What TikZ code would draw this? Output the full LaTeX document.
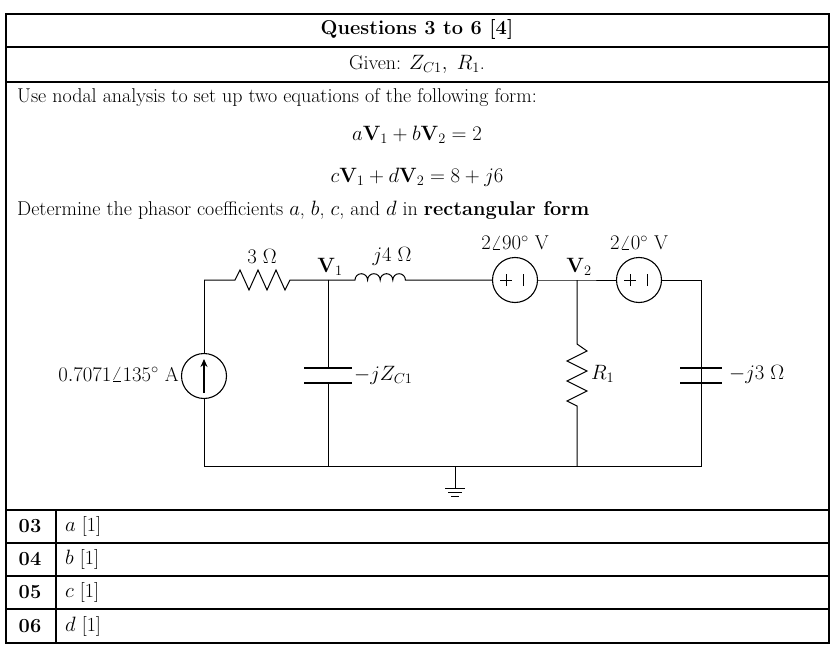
\documentclass[tikz,border=0pt]{standalone}
\usetikzlibrary{arrows.meta}
\begin{document}
\begin{tikzpicture}[x=1pt,y=-1pt,
  w/.style={line width=1pt},
  tbl/.style={line width=1.1pt},
  lbl/.style={font=\fontsize{20}{24}\selectfont, inner sep=1pt},
  src/.style={circle,draw,line width=1.1pt,minimum size=45pt,inner sep=0pt}]
\useasboundingbox (0,0) rectangle (834,652);
% table
\draw[tbl] (6,14) rectangle (829,643);
\foreach \yy in {47,82,510,543,576,609} \draw[tbl] (6,\yy) -- (829,\yy);
\draw[tbl] (56,510) -- (56,643);
\node[lbl,font=\fontsize{20}{24}\selectfont\bfseries] (t1) at (417,30) {Questions 3 to 6 [4]};
\node[lbl] (t2) at (417,64) {Given: $Z_{C1},\ R_1$.};
\node[lbl,anchor=west] (t3) at (16,98) {Use nodal analysis to set up two equations of the following form:};
\node[lbl] (e1) at (417,135) {$a\mathbf{V}_1+b\mathbf{V}_2=2$};
\node[lbl] (e2) at (417,177) {$c\mathbf{V}_1+d\mathbf{V}_2=8+j6$};
\node[lbl,anchor=west] (t4) at (16,210) {Determine the phasor coefficients $a$, $b$, $c$, and $d$ in \textbf{rectangular form}};
\foreach \n/\l/\yy in {03/a/526,04/b/559,05/c/592,06/d/626}{
  \node[lbl,font=\fontsize{20}{24}\selectfont\bfseries] (r\n) at (30,\yy) {\n};
  \node[lbl,anchor=west] (q\n) at (64,\yy) {$\l$ [1]};}
% circuit coordinates
\coordinate (TL) at (204,280); \coordinate (BL) at (204,466);
\coordinate (N1) at (328,280); \coordinate (B1) at (328,466);
\coordinate (N2) at (577,280); \coordinate (B2) at (577,466);
\coordinate (TR) at (701,280); \coordinate (BR) at (701,466);
\coordinate (G) at (455,466);
\node[src] (I) at (204,376) {};
\node[src] (S1) at (515,280) {};
\node[src] (S2) at (639,280) {};
% left branch
\draw[w] (TL) -- (I.north); \draw[w] (I.south) -- (BL) -- (BR) -- (TR);
\draw[-{Stealth[length=8pt,width=7pt]},line width=1.3pt] (204,393) -- (204,359);
% resistor 3
\draw[w] (TL) -- (235,280) -- (240,270) -- (249,290) -- (258,270) -- (267,290) -- (276,270) -- (285,290) -- (290,280) -- (N1);
% inductor
\draw[w] (N1) -- (355,280) arc(180:360:6.3) arc(180:360:6.3) arc(180:360:6.3) arc(180:360:6.3) -- (S1.west);
\draw[w] (S1.east) -- (N2) -- (S2.west);
\draw[w] (S2.east) -- (TR);
% sources signs
\foreach \s in {S1,S2}{
 \draw[line width=0.9pt] ([xshift=-15pt]\s.center) -- ([xshift=-3pt]\s.center) ([xshift=-9pt,yshift=-6pt]\s.center) -- ([xshift=-9pt,yshift=6pt]\s.center);
 \draw[line width=0.9pt] ([xshift=8pt,yshift=-6pt]\s.center) -- ([xshift=8pt,yshift=6pt]\s.center);}
% capacitor C1
\draw[w] (N1) -- (328,368); \draw[w] (328,383) -- (B1);
\draw[line width=1.4pt] (304,368) -- (352,368) (304,383) -- (352,383);
% R1
\draw[w] (N2) -- (577,344) -- (587,351) -- (567,361) -- (587,371) -- (567,381) -- (587,391) -- (567,401) -- (577,406) -- (B2);
% right capacitor
\draw[w] (TR) -- (701,368); \draw[w] (701,383) -- (BR);
\draw[line width=1.4pt] (680,368) -- (722,368) (680,383) -- (722,383);
% ground
\draw[w] (G) -- (455,488);
\draw[w] (445,488) -- (465,488) (448,492) -- (462,492) (451,496) -- (459,496);
% labels
\node[lbl] (l1) at (262,256) {$3\ \Omega$};
\node[lbl] (l2) at (330,267) {$\mathbf{V}_1$};
\node[lbl] (l3) at (392,256) {$j4\ \Omega$};
\node[lbl] (l4) at (515,243) {$2\angle 90^\circ$ V};
\node[lbl] (l5) at (579,267) {$\mathbf{V}_2$};
\node[lbl] (l6) at (639,243) {$2\angle 0^\circ$ V};
\node[lbl,anchor=east] (l7) at (180,374) {$0.7071\angle 135^\circ$ A};
\node[lbl,anchor=west] (l8) at (353,375) {$-jZ_{C1}$};
\node[lbl,anchor=west] (l9) at (590,374) {$R_1$};
\node[lbl,anchor=west] (l10) at (728,374) {$-j3\ \Omega$};
\end{tikzpicture}
\end{document}
